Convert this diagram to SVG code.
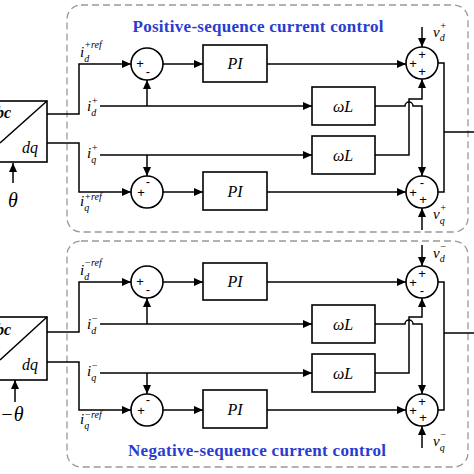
<svg xmlns="http://www.w3.org/2000/svg" width="474" height="474" viewBox="0 0 474 474">
<defs>
<marker id="ah" markerUnits="userSpaceOnUse" markerWidth="10" markerHeight="8" refX="9" refY="4" orient="auto">
<path d="M0,0 L9,4 L0,8 Z" fill="#000"/>
</marker>
<style>
.ln{fill:none;stroke:#000;stroke-width:1.5}
.ar{fill:none;stroke:#000;stroke-width:1.5;marker-end:url(#ah)}
.bx{fill:#fff;stroke:#000;stroke-width:1.6}
.dash{fill:none;stroke:#999;stroke-width:1.3;stroke-dasharray:7,4}
.it{font-family:"Liberation Serif",serif;font-style:italic;fill:#000}
.sg{font-family:"Liberation Sans",sans-serif;font-size:13px;fill:#000;text-anchor:middle}
.ttl{font-family:"Liberation Serif",serif;font-weight:bold;font-size:17px;fill:#2a3bd0;text-anchor:middle}
</style>
</defs>
<rect width="474" height="474" fill="#fff"/>

<!-- dashed frames -->
<rect class="dash" x="67" y="5" width="401" height="227" rx="14"/>
<rect class="dash" x="67" y="241" width="401" height="226" rx="14"/>
<text class="ttl" x="258" y="32" textLength="251">Positive-sequence current control</text>
<text class="ttl" x="257" y="456" textLength="258">Negative-sequence current control</text>

<!-- connectors -->
<g id="connectors">
<!-- positive -->
<path class="ar" d="M13,183 V163"/>
<path class="ar" d="M47,114 H79 V64 H131"/>
<path class="ar" d="M47,143 H79 V192 H131"/>
<path class="ar" d="M100,106 H312"/>
<path class="ar" d="M147,106 V80"/>
<path class="ar" d="M100,155 H312"/>
<path class="ar" d="M147,155 V176"/>
<path class="ar" d="M163,64 H203"/>
<path class="ar" d="M163,192 H203"/>
<path class="ar" d="M267,64 H406"/>
<path class="ar" d="M267,192 H406"/>
<path class="ar" d="M375,106 H405 A4,4 0 0 1 413,106 H422 V176"/>
<path class="ar" d="M375,155 H409 V99 H422 V79"/>
<path class="ar" d="M422,27 V47"/>
<path class="ar" d="M422,230 V208"/>
<path class="ln" d="M438,63 H444 V192 H438 M444,132 H474"/>
<!-- negative -->
<path class="ar" d="M15,402 V380"/>
<path class="ar" d="M47,332 H79 V282 H131"/>
<path class="ar" d="M47,362 H79 V410 H131"/>
<path class="ar" d="M100,324 H312"/>
<path class="ar" d="M147,324 V298"/>
<path class="ar" d="M100,373 H312"/>
<path class="ar" d="M147,373 V394"/>
<path class="ar" d="M163,282 H203"/>
<path class="ar" d="M163,410 H203"/>
<path class="ar" d="M267,282 H406"/>
<path class="ar" d="M267,410 H406"/>
<path class="ar" d="M375,324 H405 A4,4 0 0 1 413,324 H422 V394"/>
<path class="ar" d="M375,373 H409 V317 H422 V298"/>
<path class="ar" d="M422,245 V266"/>
<path class="ar" d="M422,448 V426"/>
<path class="ln" d="M438,282 H444 V410 H438 M444,333 H474"/>
</g>

<!-- positive-sequence nodes -->
<g id="abc_dq_pos">
<rect class="bx" x="-10" y="101" width="57" height="61"/>
<path class="ln" d="M0,143 L47,101"/>
<text class="it" x="11" y="118" font-size="16" text-anchor="end" font-weight="bold">abc</text>
<text class="it" x="22" y="153" font-size="16">dq</text>
<text class="it" x="13" y="207" font-size="20" text-anchor="middle">θ</text>
</g>
<g id="labels_pos" class="it">
<text x="80" y="57" font-size="15">i<tspan font-size="10" dy="5">d</tspan><tspan font-size="10" dx="-5" dy="-14">+ref</tspan></text>
<text x="87" y="111" font-size="15">i<tspan font-size="10" dy="5">d</tspan><tspan font-size="10" dx="-5" dy="-12">+</tspan></text>
<text x="87" y="158" font-size="15">i<tspan font-size="10" dy="5">q</tspan><tspan font-size="10" dx="-5" dy="-12">+</tspan></text>
<text x="80" y="206" font-size="15">i<tspan font-size="10" dy="5">q</tspan><tspan font-size="10" dx="-5" dy="-11">+ref</tspan></text>
<text x="433" y="37" font-size="15">v<tspan font-size="10" dy="4">d</tspan><tspan font-size="10" dx="-5" dy="-12">+</tspan></text>
<text x="433" y="219" font-size="15">v<tspan font-size="10" dy="5">q</tspan><tspan font-size="10" dx="-5" dy="-13">+</tspan></text>
</g>
<g id="sum_d_pos">
<circle class="bx" cx="147" cy="64" r="16"/>
<text class="sg" x="140" y="68">+</text><text class="sg" x="148" y="76">-</text>
</g>
<g id="sum_q_pos">
<circle class="bx" cx="147" cy="192" r="16"/>
<text class="sg" x="141" y="197">+</text><text class="sg" x="148" y="186">-</text>
</g>
<g id="pi_d_pos"><rect class="bx" x="203" y="45" width="64" height="37"/><text class="it" x="235" y="69" font-size="16" text-anchor="middle">PI</text></g>
<g id="pi_q_pos"><rect class="bx" x="203" y="172" width="64" height="38"/><text class="it" x="235" y="197" font-size="16" text-anchor="middle">PI</text></g>
<g id="wl_d_pos"><rect class="bx" x="312" y="87" width="63" height="38"/><text class="it" x="343" y="112" font-size="16" text-anchor="middle">ωL</text></g>
<g id="wl_q_pos"><rect class="bx" x="312" y="136" width="63" height="38"/><text class="it" x="343" y="161" font-size="16" text-anchor="middle">ωL</text></g>
<g id="sum_vd_pos">
<circle class="bx" cx="422" cy="63" r="16"/>
<text class="sg" x="422" y="59">+</text><text class="sg" x="413" y="68">+</text><text class="sg" x="422" y="76">+</text>
</g>
<g id="sum_vq_pos">
<circle class="bx" cx="422" cy="192" r="16"/>
<text class="sg" x="422" y="187">-</text><text class="sg" x="413" y="197">+</text><text class="sg" x="423" y="204">+</text>
</g>

<!-- negative-sequence nodes -->
<g id="abc_dq_neg">
<rect class="bx" x="-10" y="317" width="57" height="63"/>
<path class="ln" d="M0,360 L47,317"/>
<text class="it" x="11" y="335" font-size="16" text-anchor="end" font-weight="bold">abc</text>
<text class="it" x="22" y="370" font-size="16">dq</text>
<text class="it" x="12" y="421" font-size="20" text-anchor="middle">−θ</text>
</g>
<g id="labels_neg" class="it">
<text x="80" y="275" font-size="15">i<tspan font-size="10" dy="5">d</tspan><tspan font-size="10" dx="-5" dy="-14">−ref</tspan></text>
<text x="87" y="329" font-size="15">i<tspan font-size="10" dy="5">d</tspan><tspan font-size="10" dx="-5" dy="-12">−</tspan></text>
<text x="87" y="376" font-size="15">i<tspan font-size="10" dy="5">q</tspan><tspan font-size="10" dx="-5" dy="-12">−</tspan></text>
<text x="80" y="424" font-size="15">i<tspan font-size="10" dy="5">q</tspan><tspan font-size="10" dx="-5" dy="-11">−ref</tspan></text>
<text x="433" y="258" font-size="15">v<tspan font-size="10" dy="4">d</tspan><tspan font-size="10" dx="-5" dy="-12">−</tspan></text>
<text x="433" y="446" font-size="15">v<tspan font-size="10" dy="5">q</tspan><tspan font-size="10" dx="-5" dy="-13">−</tspan></text>
</g>
<g id="sum_d_neg">
<circle class="bx" cx="147" cy="282" r="16"/>
<text class="sg" x="140" y="286">+</text><text class="sg" x="148" y="294">-</text>
</g>
<g id="sum_q_neg">
<circle class="bx" cx="147" cy="410" r="16"/>
<text class="sg" x="141" y="415">+</text><text class="sg" x="148" y="404">-</text>
</g>
<g id="pi_d_neg"><rect class="bx" x="203" y="263" width="64" height="37"/><text class="it" x="235" y="287" font-size="16" text-anchor="middle">PI</text></g>
<g id="pi_q_neg"><rect class="bx" x="203" y="390" width="64" height="38"/><text class="it" x="235" y="415" font-size="16" text-anchor="middle">PI</text></g>
<g id="wl_d_neg"><rect class="bx" x="312" y="305" width="63" height="38"/><text class="it" x="343" y="330" font-size="16" text-anchor="middle">ωL</text></g>
<g id="wl_q_neg"><rect class="bx" x="312" y="354" width="63" height="38"/><text class="it" x="343" y="379" font-size="16" text-anchor="middle">ωL</text></g>
<g id="sum_vd_neg">
<circle class="bx" cx="422" cy="282" r="16"/>
<text class="sg" x="422" y="278">+</text><text class="sg" x="413" y="287">+</text><text class="sg" x="422" y="295">-</text>
</g>
<g id="sum_vq_neg">
<circle class="bx" cx="422" cy="410" r="16"/>
<text class="sg" x="422" y="406">+</text><text class="sg" x="413" y="415">+</text><text class="sg" x="423" y="422">+</text>
</g>
</svg>
